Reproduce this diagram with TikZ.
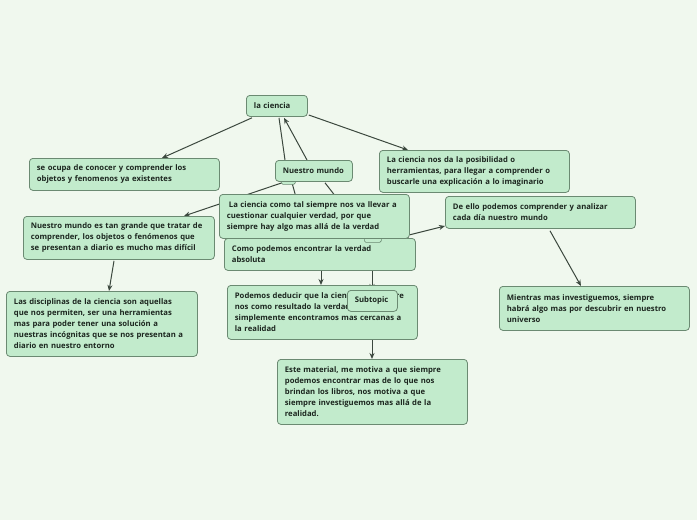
\documentclass[tikz,border=0pt]{standalone}
\usepackage{fontspec}
\setmainfont{Open Sans}
\usetikzlibrary{arrows.meta,calc}
\definecolor{bgc}{HTML}{F0F8EE}
\definecolor{boxfill}{HTML}{C2EBCC}
\definecolor{boxline}{HTML}{6B8A72}
\definecolor{edgec}{HTML}{3B483E}
\definecolor{txtc}{HTML}{1C261F}
\tikzset{
  box/.style={draw=boxline, fill=boxfill, rounded corners=3.5pt, line width=0.8pt,
    inner xsep=7.5pt, inner ysep=0pt, align=left, anchor=north west,
    text=txtc, font=\fontsize{7.7}{11}\selectfont\bfseries},
  tabbox/.style={draw=boxline, fill=boxfill, rounded corners=1.5pt, line width=0.7pt,
    anchor=north west, inner sep=0pt},
  conn/.style={draw=edgec, line width=1pt},
  arr/.style={conn, -{Stealth[length=6pt,width=5pt]}}
}
\newcommand\bx[6]{\node[box, minimum height=#5pt, text width=\dimexpr #4pt-15pt\relax] (#1) at (#2,#3) {#6};}
\begin{document}
\begin{tikzpicture}[x=1pt,y=-1pt]
\fill[bgc] (0,0) rectangle (697,520);
\useasboundingbox (0,0) rectangle (697,520);
% invisible geometry nodes for connectors first (same boxes, no draw)
\begin{scope}[box/.append style={draw=none, fill=none, text opacity=0}]
\bx{lc}{246}{95}{61}{21}{x}
\bx{so}{29}{158}{190}{32}{x}
\bx{nm}{275}{160}{77}{21}{x}
\bx{lcn}{379}{150}{190}{42}{x}
\bx{nmg}{23}{216}{191}{43}{x}
\bx{lct}{219}{194}{190}{44}{x}
\bx{de}{445}{196}{190}{32}{x}
\bx{cp}{224}{238}{191}{32}{x}
\bx{ld}{6}{291}{191}{65}{x}
\bx{pd}{227}{285}{190}{54}{x}
\bx{st}{347}{290}{50}{21}{x}
\bx{mi}{499}{286}{190}{44}{x}
\bx{em}{277}{359}{190}{65}{x}
\end{scope}
% connectors
\draw[arr] ($(lc.south west)+(6,1)$) -- ($(so.north west)+(133,0)$);
\draw[arr] ($(lc.north east)+(1,20)$) -- ($(lcn.north west)+(29,0)$);
\draw[conn] ($(lc.south west)+(33,1)$) -- ($(nm.north west)+(10,0)$);
\draw[arr] ($(nm.north west)+(32,0)$) -- ($(lc.south west)+(38,1)$);
\draw[arr] ($(nm.south west)+(7,1)$) -- ($(nmg.north west)+(161,0)$);
\draw[conn] ($(nm.south west)+(17,1)$) -- ($(lct.north west)+(80,14)$);
\draw[conn] ($(nm.south west)+(50,1)$) -- ($(lct.north west)+(124,12)$);
\draw[arr] ($(lct.south east)+(0,-4)$) -- ($(de.north west)+(0,30)$);
\draw[arr] ($(de.south west)+(105,2)$) -- ($(mi.north west)+(82,0)$);
\draw[arr] ($(nmg.south west)+(91,1)$) -- ($(ld.north west)+(103,0)$);
\draw[arr] ($(cp.south west)+(97,0)$) -- ($(pd.north west)+(94,0)$);
\draw[arr] ($(cp.south west)+(148,0)$) -- ($(st.north west)+(25,0)$);
\draw[arr] ($(pd.south west)+(145,0)$) -- ($(em.north west)+(95,0)$);
% boxes
\bx{lc}{246}{95}{61}{21}{la ciencia}
\bx{so}{29}{158}{190}{32}{se ocupa de conocer y comprender los\\objetos y fenomenos ya existentes}
\bx{lcn}{379}{150}{190}{42}{La ciencia nos da la posibilidad o\\herramientas, para llegar a comprender o\\buscarle una explicación a lo imaginario}
\node[tabbox, minimum width=14pt, minimum height=7pt] (nmtab) at (281,177) {};
\bx{nm}{275}{160}{77}{21}{Nuestro mundo}
\bx{nmg}{23}{216}{191}{43}{Nuestro mundo es tan grande que tratar de\\comprender, los objetos o fenómenos que\\se presentan a diario es mucho mas difícil}
\bx{cp}{224}{238}{191}{32}{Como podemos encontrar la verdad\\absoluta}
\node[tabbox, minimum width=17pt, minimum height=8pt] (lcttab) at (364,234) {};
\bx{lct}{219}{194}{190}{44}{\hspace*{2pt}La ciencia como tal siempre nos va llevar a\\cuestionar cualquier verdad, por que\\siempre hay algo mas allá de la verdad}
\bx{de}{445}{196}{190}{32}{De ello podemos comprender y analizar\\cada día nuestro mundo}
\bx{ld}{6}{291}{191}{65}{Las disciplinas de la ciencia son aquellas\\que nos permiten, ser una herramientas\\mas para poder tener una solución a\\nuestras incógnitas que se nos presentan a\\diario en nuestro entorno}
\bx{pd}{227}{285}{190}{54}{Podemos deducir que la ciencia no siempre\\nos como resultado la verdad, sino\\simplemente encontramos mas cercanas a\\la realidad}
\bx{st}{347}{290}{50}{21}{Subtopic}
\bx{mi}{499}{286}{190}{44}{Mientras mas investiguemos, siempre\\habrá algo mas por descubrir en nuestro\\universo}
\bx{em}{277}{359}{190}{65}{Este material, me motiva a que siempre\\podemos encontrar mas de lo que nos\\brindan los libros, nos motiva a que\\siempre investiguemos mas allá de la\\realidad.}
\end{tikzpicture}
\end{document}
